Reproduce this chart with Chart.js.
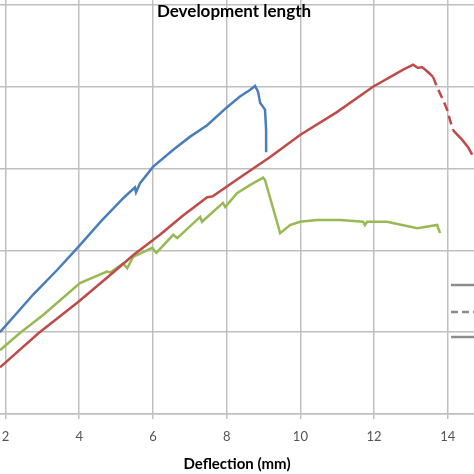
<!DOCTYPE html>
<html>
<head>
<meta charset="utf-8">
<script src="https://cdn.jsdelivr.net/npm/chart.js@4.4.1/dist/chart.umd.min.js"></script>
<style>
  body { margin: 0; background: #fff; }
  #myChart { display: block; }
</style>
</head>
<body>
<canvas id="myChart" width="474" height="474"></canvas>
<script>
// deflection (mm) / load readings for each specimen
var blueX = [1.85, 2.75, 3.40, 3.97, 4.60, 5.20, 5.51, 5.54, 5.65, 6.00, 6.55, 7.01, 7.47, 8.01, 8.36, 8.63, 8.77, 8.85, 8.91, 9.04, 9.07, 9.07];
var blueY = [10.0, 14.6, 17.6, 20.4, 23.6, 26.4, 27.7, 27.1, 28.2, 30.2, 32.3, 33.9, 35.3, 37.5, 38.8, 39.6, 40.1, 39.4, 38.0, 37.2, 34.7, 32.0];

var redX = [1.85, 2.90, 3.97, 5.00, 5.46, 6.19, 6.80, 7.47, 7.62, 8.36, 9.18, 9.99, 10.99, 11.97, 12.79, 13.06, 13.19, 13.30, 13.46, 13.60, 13.71, 13.85, 13.98, 14.06, 14.14, 14.39, 14.55, 14.66];
var redY = [5.7, 9.9, 13.7, 17.6, 19.4, 21.9, 24.2, 26.5, 26.6, 28.9, 31.4, 34.1, 36.9, 40.0, 42.1, 42.7, 42.3, 42.4, 41.8, 41.2, 39.9, 38.6, 37.2, 35.9, 34.7, 33.5, 32.6, 31.7];

var greenX = [1.85, 2.39, 3.02, 4.02, 4.75, 4.84, 5.19, 5.30, 5.46, 5.98, 6.09, 6.55, 6.66, 7.28, 7.33, 7.90, 7.96, 8.28, 8.64, 8.99, 9.04, 9.45, 9.72, 9.99, 10.45, 11.08, 11.70, 11.75, 11.81, 12.35, 13.17, 13.71, 13.74, 13.79];
var greenY = [7.8, 9.9, 12.1, 16.0, 17.4, 17.3, 18.4, 17.8, 19.2, 20.3, 19.7, 21.9, 21.5, 24.1, 23.5, 25.8, 25.3, 27.0, 28.0, 28.9, 28.6, 22.1, 23.1, 23.5, 23.7, 23.7, 23.5, 23.1, 23.5, 23.5, 22.7, 23.1, 22.7, 22.1];

var xTicks = [2, 4, 6, 8, 10, 12, 14];
var yTicks = [0, 10, 20, 30, 40, 50];

function pts(xs, ys) {
    return xs.map(function (x, i) { return { x: x, y: ys[i] }; });
}

// title over the plot and the cut-off legend keys on the right edge
var extras = {
    id: 'extras',
    afterDraw: function (chart) {
        var c = chart.ctx;
        c.save();
        c.fillStyle = '#000';
        c.font = 'bold 17px Lato, "Open Sans", sans-serif';
        c.textAlign = 'center';
        c.textBaseline = 'middle';
        c.fillText('Development length', 234, 12);
        c.strokeStyle = '#8c8c8c';
        c.lineWidth = 2.5;
        c.beginPath(); c.moveTo(451, 285); c.lineTo(474, 285); c.stroke();
        c.setLineDash([7, 4]);
        c.beginPath(); c.moveTo(451, 312); c.lineTo(474, 312); c.stroke();
        c.setLineDash([]);
        c.beginPath(); c.moveTo(451, 337); c.lineTo(474, 337); c.stroke();
        c.restore();
    }
};

var ctx = document.getElementById('myChart').getContext('2d');
var myChart = new Chart(ctx, {
    type: 'scatter',
    data: {
        datasets: [{
            data: pts(blueX, blueY),
            showLine: true,
            borderColor: '#4a7ebb',
            borderWidth: 2.5,
            pointRadius: 0
        }, {
            data: pts(redX, redY),
            showLine: true,
            borderColor: '#be4b48',
            borderWidth: 2.5,
            pointRadius: 0,
            segment: {
                borderDash: function (s) {
                    return (s.p0.parsed.x >= 13.6 && s.p0.parsed.x < 14.1) ? [9, 5] : undefined;
                }
            }
        }, {
            data: pts(greenX, greenY),
            showLine: true,
            borderColor: '#98b954',
            borderWidth: 2.5,
            pointRadius: 0
        }]
    },
    options: {
        responsive: false,
        animation: false,
        layout: { padding: 0 },
        plugins: {
            legend: { display: false },
            tooltip: { enabled: false }
        },
        scales: {
            x: {
                type: 'linear',
                min: 1.85,
                max: 14.71,
                afterBuildTicks: function (s) {
                    s.ticks = xTicks.map(function (v) { return { value: v }; });
                },
                afterFit: function (s) {
                    s.height = 60;
                    s.paddingLeft = 0;
                    s.paddingRight = 0;
                },
                grid: { color: '#bfbfbf', lineWidth: 1.5, tickLength: 5 },
                border: { color: '#bfbfbf', width: 1.5 },
                ticks: {
                    color: '#555',
                    padding: 10,
                    maxRotation: 0,
                    font: { family: 'Lato, "Open Sans", sans-serif', size: 13 }
                },
                title: {
                    display: true,
                    text: 'Deflection (mm)',
                    color: '#000',
                    padding: { top: 0, bottom: 1 },
                    font: { family: 'Lato, "Open Sans", sans-serif', size: 15, weight: 'bold' }
                }
            },
            y: {
                min: 0,
                max: 50.6,
                afterBuildTicks: function (s) {
                    s.ticks = yTicks.map(function (v) { return { value: v }; });
                },
                afterFit: function (s) {
                    s.width = 0;
                    s.paddingTop = 0;
                    s.paddingBottom = 0;
                },
                grid: { color: '#bfbfbf', lineWidth: 1.5, drawTicks: false },
                border: { display: false },
                ticks: { display: false }
            }
        }
    },
    plugins: [extras]
});
</script>
</body>
</html>
